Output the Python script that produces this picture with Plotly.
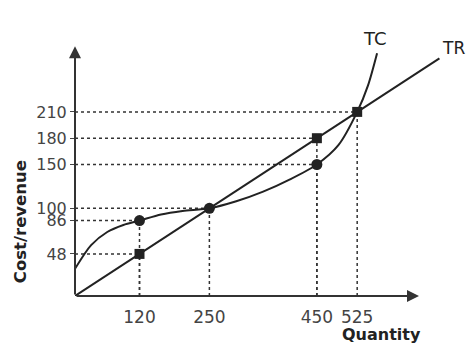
import plotly.graph_objects as go

# ---- data ----
quantity_ticks = [120, 250, 450, 525]
value_ticks = [48, 86, 100, 150, 180, 210]

tr_x = [0, 120, 250, 450, 525, 678]
tr_y = [0, 48, 100, 180, 210, 271]

tc_x = [0, 30, 60, 90, 120, 160, 200, 250, 300, 350, 400, 450, 490, 525, 545, 562]
tc_y = [31, 58, 73, 81, 86, 93, 97, 100, 108, 119, 133, 150, 172, 210, 240, 277]

tc_pts_x = [120, 250, 450]
tc_pts_y = [86, 100, 150]
tr_pts_x = [120, 450, 525]
tr_pts_y = [48, 180, 210]

# guide lines: (x of point, y of point)
guides_x = [120, 120, 250, 450, 450, 525]
guides_y = [48, 86, 100, 150, 180, 210]

dark = "#222222"
txt = "#444444"
font = "DejaVu Sans, Verdana, sans-serif"

fig = go.Figure()

# dotted guide lines
for gx, gy in zip(guides_x, guides_y):
    fig.add_trace(go.Scatter(x=[0, gx], y=[gy, gy], mode="lines",
                             line=dict(color="#333333", width=1.5, dash="dot"),
                             hoverinfo="skip", showlegend=False))
    fig.add_trace(go.Scatter(x=[gx, gx], y=[0, gy], mode="lines",
                             line=dict(color="#333333", width=1.5, dash="dot"),
                             hoverinfo="skip", showlegend=False))

# TR line
fig.add_trace(go.Scatter(x=tr_x, y=tr_y, mode="lines", name="TR",
                         line=dict(color=dark, width=2), showlegend=False))
# TC curve
fig.add_trace(go.Scatter(x=tc_x, y=tc_y, mode="lines", name="TC",
                         line=dict(color=dark, width=2, shape="spline", smoothing=0.8),
                         showlegend=False))
# points
fig.add_trace(go.Scatter(x=tc_pts_x, y=tc_pts_y, mode="markers",
                         marker=dict(symbol="circle", size=11, color=dark),
                         showlegend=False))
fig.add_trace(go.Scatter(x=tr_pts_x, y=tr_pts_y, mode="markers",
                         marker=dict(symbol="square", size=10, color=dark),
                         showlegend=False))

annotations = [
    # x axis arrow
    dict(x=640, y=0, ax=0, ay=0, xref="x", yref="y", axref="x", ayref="y",
         showarrow=True, arrowhead=2, arrowsize=1.2, arrowwidth=2, arrowcolor="#333333", text=""),
    # y axis arrow
    dict(x=0, y=285, ax=0, ay=0, xref="x", yref="y", axref="x", ayref="y",
         showarrow=True, arrowhead=2, arrowsize=1.2, arrowwidth=2, arrowcolor="#333333", text=""),
    dict(x=559, y=294, xref="x", yref="y", text="TC", showarrow=False,
         xanchor="center", yanchor="middle",
         font=dict(family=font, size=18, color="#222222")),
    dict(x=704, y=283, xref="x", yref="y", text="TR", showarrow=False,
         xanchor="center", yanchor="middle",
         font=dict(family=font, size=17, color="#222222")),
    dict(x=0.791, y=-0.148, xref="paper", yref="paper", text="<b>Quantity</b>",
         xanchor="center", yanchor="middle",
         showarrow=False, font=dict(family=font, size=16, color="#222222")),
    dict(x=-0.142, y=0.281, xref="paper", yref="paper", text="<b>Cost/revenue</b>",
         xanchor="center", yanchor="middle",
         textangle=-90, showarrow=False, font=dict(family=font, size=16.5, color="#222222")),
]

fig.update_layout(
    width=466, height=353,
    margin=dict(l=67, r=12, t=25, b=65, autoexpand=False),
    paper_bgcolor="white", plot_bgcolor="white",
    annotations=annotations,
    xaxis=dict(range=[0, 720], showgrid=False, zeroline=False, showline=False,
               tickvals=quantity_ticks, ticktext=[str(v) for v in quantity_ticks],
               ticks="", ticklabelstandoff=9, automargin=False,
               tickfont=dict(family=font, size=17, color=txt)),
    yaxis=dict(range=[0, 300], showgrid=False, zeroline=False, showline=False,
               tickvals=value_ticks, ticktext=[str(v) for v in value_ticks],
               ticks="outside", ticklen=4, tickcolor="#444444", automargin=False,
               tickfont=dict(family=font, size=16, color=txt)),
)

fig.write_html("out.html")
